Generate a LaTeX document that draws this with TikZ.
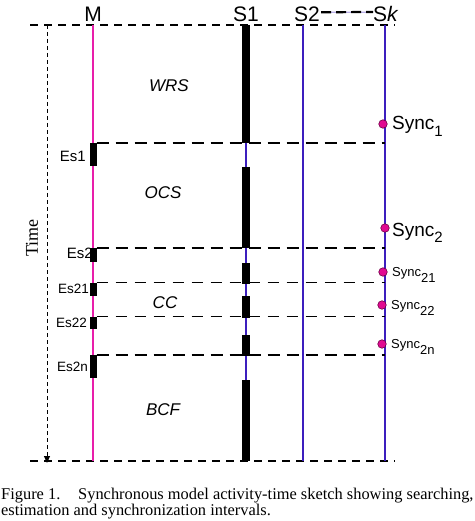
\documentclass[tikz,border=0pt]{standalone}
\usepackage{fontspec}
\setmainfont{Liberation Sans}
\newfontfamily\capfont{Liberation Serif}
\usetikzlibrary{arrows.meta}
\definecolor{mag}{RGB}{232,30,170}
\definecolor{lifeblue}{RGB}{60,30,190}
\definecolor{dotfill}{RGB}{225,10,145}
\definecolor{dotedge}{RGB}{110,0,70}
\newcommand\fsz[1]{\fontsize{#1}{#1}\selectfont}
\newcommand\lowsub[3]{\raisebox{-#1pt}{\fontsize{#2}{#2}\selectfont #3}}
\begin{document}
\begin{tikzpicture}[x=1pt,y=-1pt,
  magline/.style={draw=mag,line width=2.7pt},
  blueline/.style={draw=lifeblue,line width=1.6pt},
  thinblue/.style={draw=lifeblue,line width=1.1pt},
  actbar/.style={draw=black,line width=8pt},
  esbar/.style={fill=black,draw=none,minimum width=7pt,inner sep=0pt},
  majordash/.style={draw=black,line width=2.2pt,dash pattern=on 12pt off 7pt},
  minordash/.style={draw=black,line width=1.2pt,dash pattern=on 11pt off 8pt},
  framedash/.style={draw=black,line width=1.1pt,dash pattern=on 8pt off 6pt},
  timedash/.style={draw=black,line width=0.9pt,dash pattern=on 4pt off 3pt},
  syncdot/.style={circle,fill=dotfill,draw=dotedge,line width=0.6pt,minimum size=8.5pt,inner sep=0pt},
  head/.style={font=\fsz{21},inner sep=0pt,anchor=base},
  region/.style={font=\fsz{17}\itshape,inner sep=0pt},
  eslab/.style={inner sep=0pt,anchor=base east},
  synclab/.style={inner sep=0pt,anchor=base west},
  captext/.style={inner sep=0pt,anchor=base west,font=\capfont\fsz{16.4}},
]
\useasboundingbox (0,0) rectangle (474,521);

% lifeline end points
\coordinate (Mt) at (93,25);   \coordinate (Mb) at (93,461);
\coordinate (S1t) at (246,25); \coordinate (S1b) at (246,461);
\coordinate (S2t) at (303,25); \coordinate (S2b) at (303,461);
\coordinate (Skt) at (385,25); \coordinate (Skb) at (385,461);
\coordinate (FL) at (30,25);  \coordinate (FR) at (395,25);
\coordinate (BL) at (30,461); \coordinate (BR) at (395,461);
\coordinate (Tt) at (47,25);  \coordinate (Tb) at (47,463);

% frame lines
\draw[framedash] (FL) -- (FR);
\draw[framedash] (BL) -- (BR);
\draw[timedash,-{Triangle[length=7pt,width=6pt]}] (Tt) -- (Tb);
\node[rotate=90,font=\capfont\fsz{18},inner sep=0pt] (time) at (32,238) {Time};

% lifelines
\draw[magline] (Mt) -- (Mb);
\draw[thinblue] (S1t) -- (S1b);
\draw[blueline] (S2t) -- (S2b);
\draw[blueline] (Skt) -- (Skb);

% S1 activity bars
\draw[actbar] (246,25) -- (246,143);
\draw[actbar] (246,167) -- (246,248);
\draw[actbar] (246,263) -- (246,284);
\draw[actbar] (246,296) -- (246,318);
\draw[actbar] (246,335) -- (246,356);
\draw[actbar] (246,380) -- (246,461);

% estimation bars on M
\node[esbar,minimum height=23pt] (es1) at (93,154.5) {};
\node[esbar,minimum height=14pt] (es2) at (93,255) {};
\node[esbar,minimum height=13pt] (es21) at (93,289.5) {};
\node[esbar,minimum height=12pt] (es22) at (93,323) {};
\node[esbar,minimum height=23pt] (es2n) at (93,366.5) {};

% interval dashed lines
\draw[majordash] (es1.north east) -- (es1.north east -| Skt);
\draw[majordash] (es2.north east) -- (es2.north east -| Skt);
\draw[minordash] (es21.north east) -- (es21.north east -| Skt);
\draw[minordash] (es22.north east) -- (es22.north east -| Skt);
\draw[majordash] (es2n.north east) -- (es2n.north east -| Skt);

% Es labels
\node[eslab,font=\fsz{15}] (les1) at (86,162) {Es1};
\node[eslab,font=\fsz{15}] (les2) at (93,258) {Es2};
\node[eslab,font=\fsz{13.5}] (les21) at (89,293) {Es21};
\node[eslab,font=\fsz{13.5}] (les22) at (87,327) {Es22};
\node[eslab,font=\fsz{13.5}] (les2n) at (88,371) {Es2n};

% headers
\node[head] (hM) at (93,22) {M};
\node[head] (hS1) at (246,22) {S1};
\node[head] (hS2) at (307,22) {S2};
\node[head,anchor=base west] (hSk) at (373,22) {S\textit{k}};
\path (hS2.east) ++(1,-2.5) coordinate (dA);
\path (hSk.west) ++(0,-2.5) coordinate (dB);
\draw[lifeblue,line width=0.5pt] (dA) -- (dB);
\draw[black,line width=2.2pt,dash pattern=on 10pt off 5pt] (dA) -- (dB);

% region labels
\node[region] (wrs) at (169,86) {WRS};
\node[region] (ocs) at (163,193) {OCS};
\node[region] (cc) at (165,303) {CC};
\node[region] (bcf) at (163,410) {BCF};

% sync points
\node[syncdot] (d1) at (383,124) {};
\node[syncdot] (d2) at (385,228) {};
\node[syncdot] (d21) at (383,272) {};
\node[syncdot] (d22) at (382,305) {};
\node[syncdot] (d2n) at (382,344) {};
\node[synclab,font=\fsz{19}] (l1) at (392,130) {Sync\lowsub{7}{15}{1}};
\node[synclab,font=\fsz{19}] (l2) at (392,236) {Sync\lowsub{6}{15}{2}};
\node[synclab,font=\fsz{13}] (l21) at (392,276) {Sync\lowsub{6}{13}{21}};
\node[synclab,font=\fsz{13}] (l22) at (391,309) {Sync\lowsub{6}{13}{22}};
\node[synclab,font=\fsz{13}] (l2n) at (391,348) {Sync\lowsub{6}{13}{2n}};

% caption
\node[captext] (fig) at (1,499) {Figure 1.};
\node[captext] (cap1) at (78,499) {Synchronous model activity-time sketch showing searching,};
\node[captext] (cap2) at (1,515) {estimation and synchronization intervals.};
\end{tikzpicture}
\end{document}
